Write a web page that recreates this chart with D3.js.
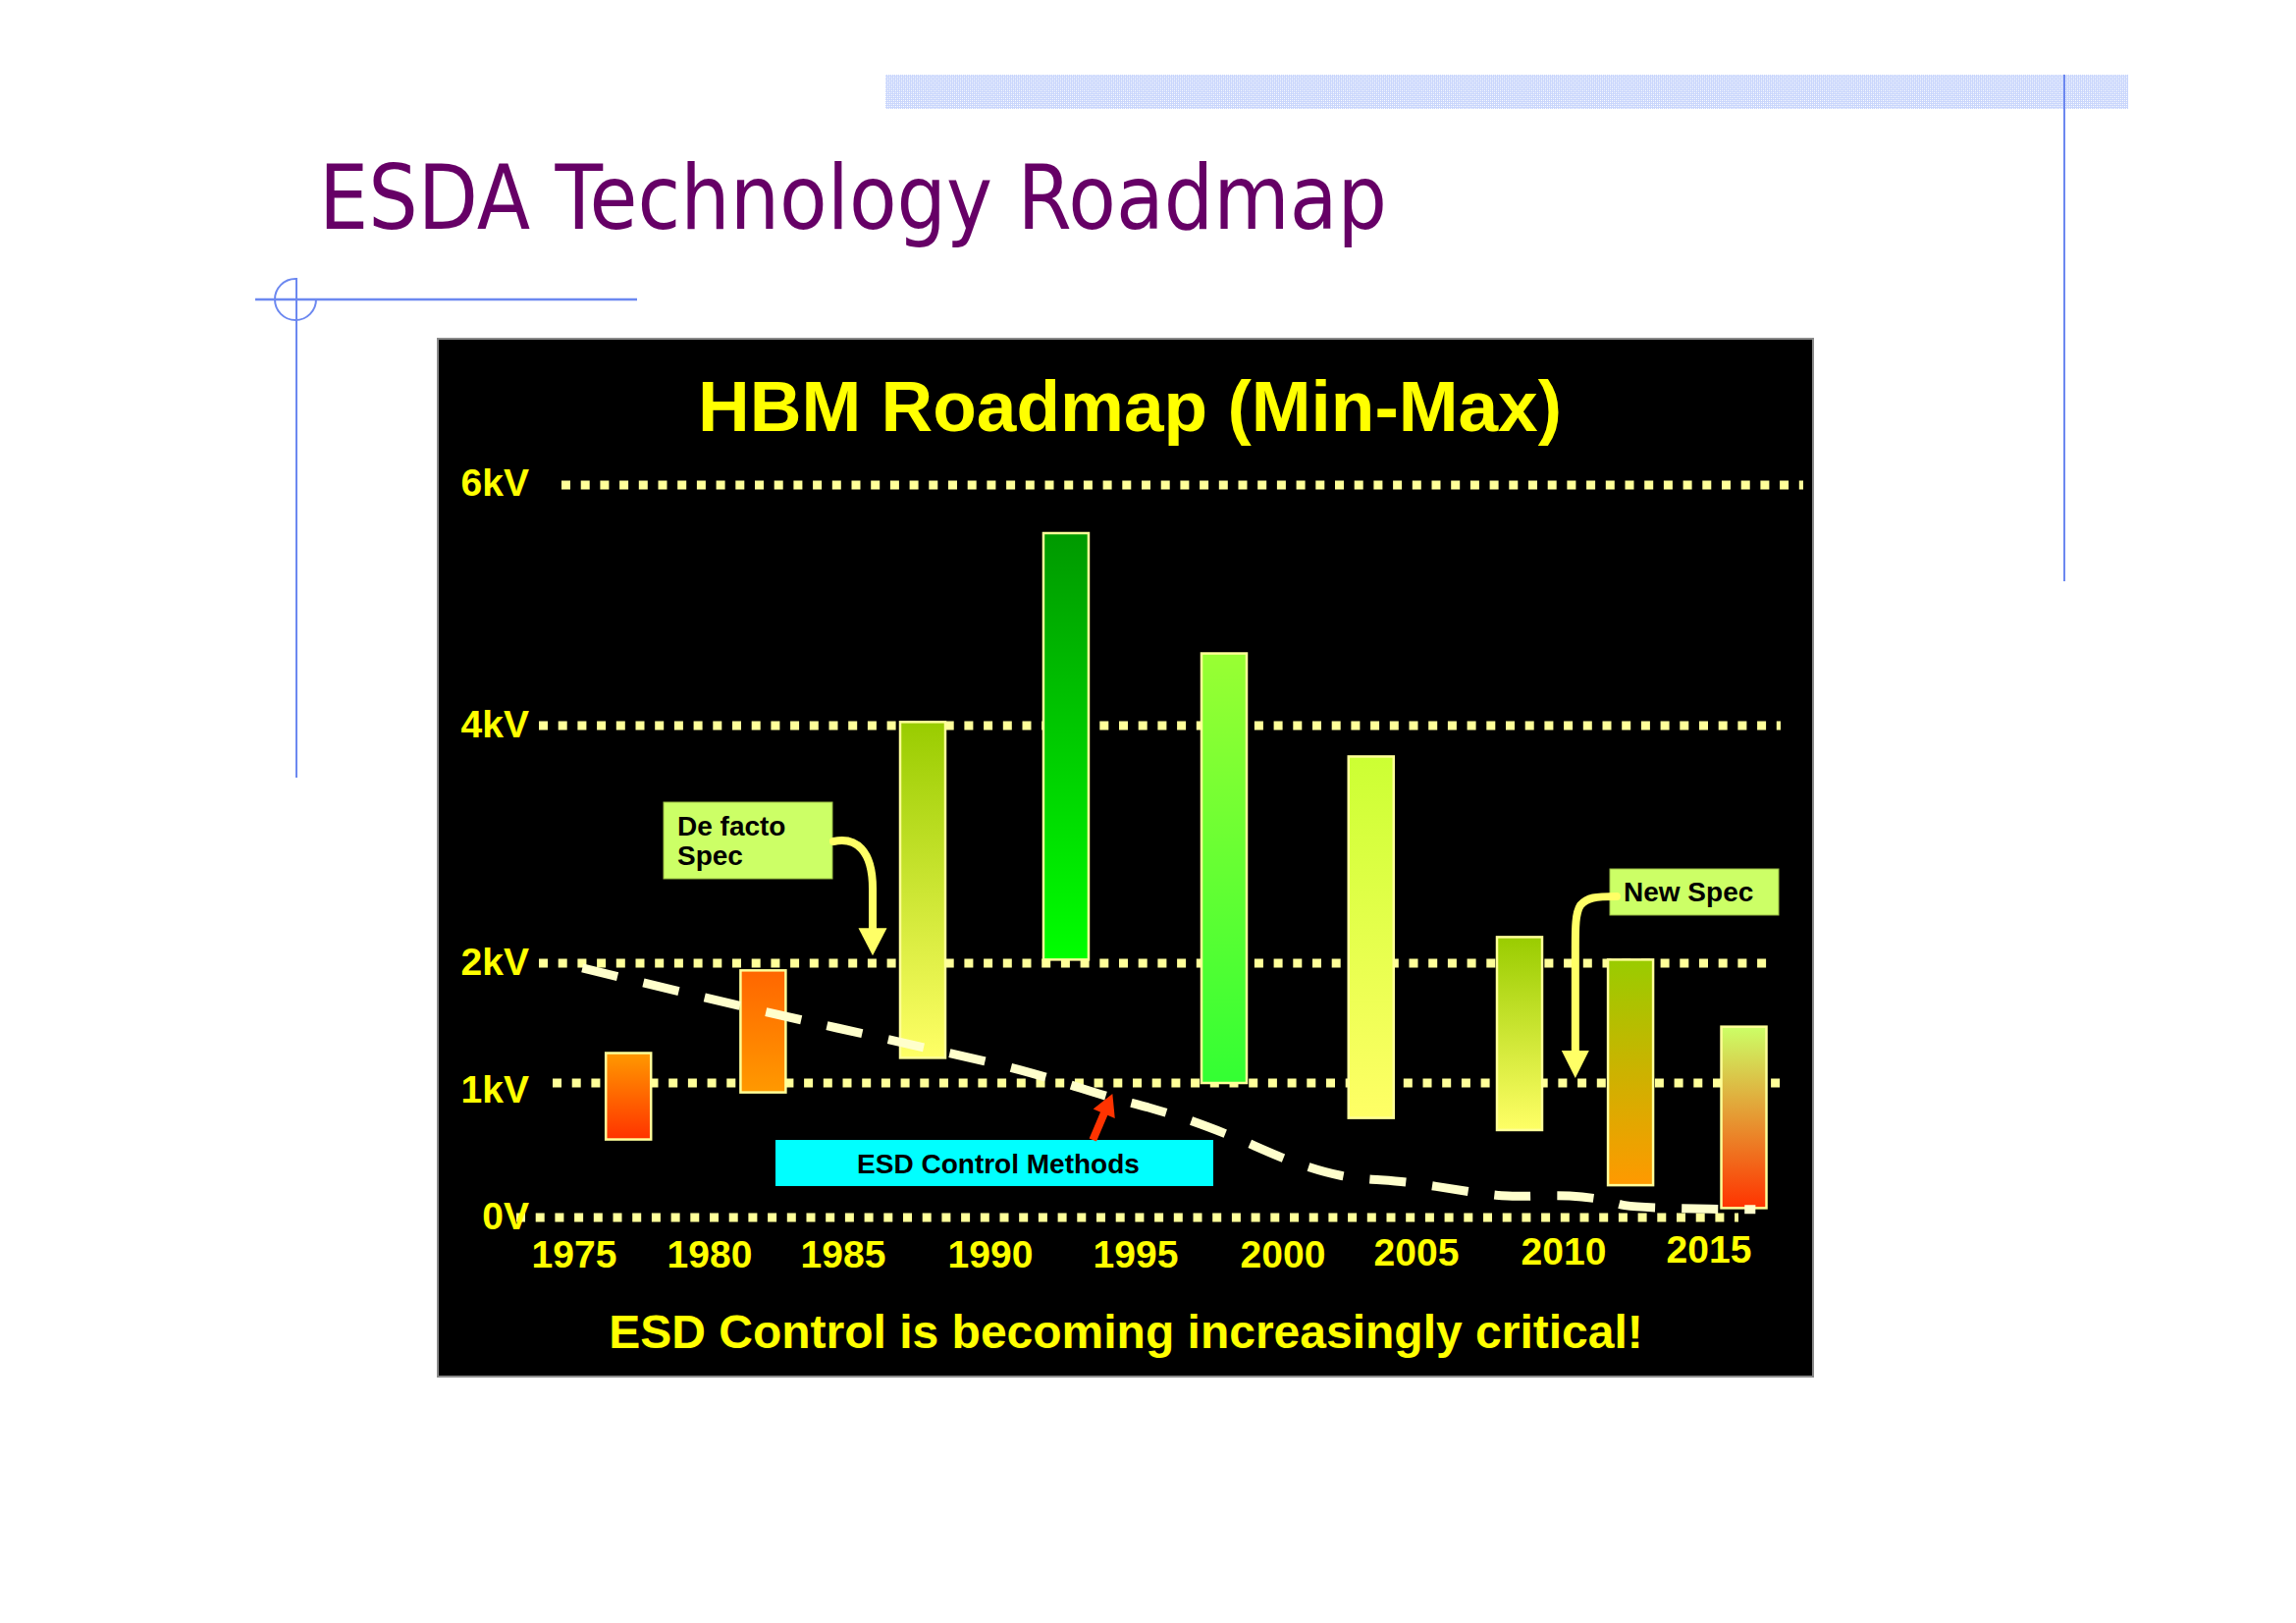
<!DOCTYPE html>
<html>
<head>
<meta charset="utf-8">
<script src="https://cdn.jsdelivr.net/npm/d3@7"></script>
<style>
  html, body { margin: 0; padding: 0; background: #ffffff; }
  svg { display: block; }
</style>
</head>
<body>
<svg id="chart" width="2339" height="1653"></svg>
<script>
// ---------------- DATA ----------------
const slideTitle = "ESDA Technology Roadmap";
const chartTitle = "HBM Roadmap (Min-Max)";
const caption = "ESD Control is becoming increasingly critical!";

const yearTicks = [1975, 1980, 1985, 1990, 1995, 2000, 2005, 2010, 2015];
const yearTickLabels = ["1975", "1980", "1985", "1990", "1995", "2000", "2005", "2010", "2015"];
const voltTicks = [0, 1, 2, 4, 6];
const voltTickLabels = ["0V", "1kV", "2kV", "4kV", "6kV"];

// HBM withstand ranges (kV) per era
const barYears = [1977, 1982, 1987.7, 1992.6, 1998, 2003.3, 2008.5, 2012.3, 2016.2];
const barMin   = [0.58, 0.93, 1.21, 2.03, 1.00, 0.74, 0.65, 0.24, 0.07];
const barMax   = [1.25, 1.94, 4.03, 5.60, 4.60, 3.74, 2.22, 2.03, 1.47];

// ESD control methods capability curve (dashed)
const curveYears = [1975.3, 1981.6, 1986.4, 1991.0, 1994.2, 1995.4, 1996.6, 1998.2, 2000.3, 2002.2, 2004.7, 2007.2, 2008.1, 2010.2, 2011.4, 2012.1, 2013.7, 2016.6];
const curveKV    = [1.96, 1.62, 1.37, 1.11, 0.89, 0.82, 0.74, 0.61, 0.42, 0.31, 0.26, 0.18, 0.16, 0.16, 0.13, 0.09, 0.07, 0.06];

// annotation targets (year, kV)
const deFactoTarget = [1986.0, 2.03];
const newSpecTarget = [2010.4, 1.04];
const methodsTarget = [1994.2, 0.92];

// ---------------- STYLE / LAYOUT ----------------
const barTopColors    = ["#ff9900", "#ff6600", "#99cc00", "#009900", "#99ff33", "#ccff33", "#99cc00", "#99cc00", "#ccff66"];
const barBottomColors = ["#ff3300", "#ff9900", "#ffff66", "#00ff00", "#33ff33", "#ffff66", "#ffff66", "#ff9900", "#ff3300"];
const xStops = [585, 723, 859, 1009, 1157, 1307, 1443, 1593, 1741];
const yStops = [1240, 1103, 981, 739, 494];
const gridStart = [526, 563, 549, 549, 572];
const gridEnd   = [1771, 1816, 1805, 1814, 1837];
const voltLabelDy = [12, 20, 12, 12, 11];
const yearLabelBaseline = [1291, 1291, 1291, 1291, 1291, 1291, 1289, 1288, 1286];
const barWidth = 46;
const FONT = "'Liberation Sans', Arial, Helvetica, sans-serif";
const decoBlue = "#6c88f0";

const svg = d3.select("#chart");
const defs = svg.append("defs");

// scales
const x = d3.scaleLinear().domain(yearTicks).range(xStops);
const y = d3.scaleLinear().domain(voltTicks).range(yStops);

// ---------- slide decoration ----------
svg.append("rect").attr("width", 2339).attr("height", 1653).attr("fill", "#ffffff");

const pat = defs.append("pattern").attr("id", "band").attr("patternUnits", "userSpaceOnUse")
  .attr("width", 4).attr("height", 4);
pat.append("rect").attr("width", 4).attr("height", 4).attr("fill", "#c9d6fc");
pat.append("rect").attr("x", 0).attr("y", 0).attr("width", 1).attr("height", 1).attr("fill", "#ffffff");
pat.append("rect").attr("x", 2).attr("y", 2).attr("width", 1).attr("height", 1).attr("fill", "#ffffff");
pat.append("rect").attr("x", 2).attr("y", 0).attr("width", 1).attr("height", 1).attr("fill", "#eef2ff");
pat.append("rect").attr("x", 0).attr("y", 2).attr("width", 1).attr("height", 1).attr("fill", "#eef2ff");

svg.append("rect").attr("x", 902).attr("y", 76).attr("width", 1266).attr("height", 35).attr("fill", "url(#band)");
svg.append("line").attr("x1", 2103).attr("x2", 2103).attr("y1", 76).attr("y2", 592)
  .attr("stroke", decoBlue).attr("stroke-width", 2);

// crosshair
svg.append("line").attr("x1", 260).attr("x2", 649).attr("y1", 305).attr("y2", 305)
  .attr("stroke", decoBlue).attr("stroke-width", 2.5);
svg.append("line").attr("x1", 302).attr("x2", 302).attr("y1", 283).attr("y2", 792)
  .attr("stroke", decoBlue).attr("stroke-width", 2);
svg.append("path")
  .attr("transform", "translate(301,305)")
  .attr("d", d3.arc().innerRadius(21).outerRadius(21).startAngle(Math.PI / 2).endAngle(2 * Math.PI)())
  .attr("fill", "none").attr("stroke", decoBlue).attr("stroke-width", 2);

svg.append("text").attr("x", 325).attr("y", 233)
  .attr("font-family", "'DejaVu Sans', Verdana, Tahoma, sans-serif")
  .attr("font-size", 90).attr("fill", "#660066")
  .attr("textLength", 1088).attr("lengthAdjust", "spacingAndGlyphs")
  .text(slideTitle);

// ---------- chart panel ----------
svg.append("rect").attr("x", 446).attr("y", 345).attr("width", 1401).attr("height", 1057)
  .attr("fill", "#000000").attr("stroke", "#8a8a8a").attr("stroke-width", 2);

svg.append("text").attr("x", 1151).attr("y", 439).attr("text-anchor", "middle")
  .attr("font-family", FONT).attr("font-weight", "bold").attr("font-size", 73)
  .attr("fill", "#ffff00").text(chartTitle);

// gridlines (dotted)
svg.append("g").selectAll("line").data(voltTicks).join("line")
  .attr("x1", (d, i) => gridStart[i]).attr("x2", (d, i) => gridEnd[i])
  .attr("y1", d => y(d)).attr("y2", d => y(d))
  .attr("stroke", "#ffff99").attr("stroke-width", 9)
  .attr("stroke-dasharray", "9,10.7");

// y labels
svg.append("g").selectAll("text").data(voltTicks).join("text")
  .attr("x", 539).attr("y", (d, i) => y(d) + voltLabelDy[i])
  .attr("text-anchor", "end")
  .attr("font-family", FONT).attr("font-weight", "bold").attr("font-size", 39)
  .attr("fill", "#ffff00")
  .text((d, i) => voltTickLabels[i]);

// x labels
svg.append("g").selectAll("text").data(yearTicks).join("text")
  .attr("x", d => x(d)).attr("y", (d, i) => yearLabelBaseline[i])
  .attr("text-anchor", "middle")
  .attr("font-family", FONT).attr("font-weight", "bold").attr("font-size", 39)
  .attr("fill", "#ffff00")
  .text((d, i) => yearTickLabels[i]);

// gradients
barYears.forEach((yr, i) => {
  const g = defs.append("linearGradient").attr("id", "bg" + i)
    .attr("x1", 0).attr("y1", 0).attr("x2", 0).attr("y2", 1);
  g.append("stop").attr("offset", "0%").attr("stop-color", barTopColors[i]);
  g.append("stop").attr("offset", "100%").attr("stop-color", barBottomColors[i]);
});

// bars
svg.append("g").selectAll("rect").data(barYears).join("rect")
  .attr("x", d => x(d) - barWidth / 2)
  .attr("width", barWidth)
  .attr("y", (d, i) => y(barMax[i]))
  .attr("height", (d, i) => y(barMin[i]) - y(barMax[i]))
  .attr("fill", (d, i) => "url(#bg" + i + ")")
  .attr("stroke", "#ffff99").attr("stroke-width", 2.5);

// dashed curve
const curvePts = curveYears.map((yr, i) => [x(yr), y(curveKV[i])]);
svg.append("path")
  .attr("d", d3.line().curve(d3.curveCatmullRom.alpha(0.5))(curvePts))
  .attr("fill", "none").attr("stroke", "#ffffcc").attr("stroke-width", 9)
  .attr("stroke-dasharray", "37,27");

// ---------- annotations ----------
function arrowHead(tip, dir, w, l, color) {
  const [tx, ty] = tip;
  const len = Math.hypot(dir[0], dir[1]);
  const ux = dir[0] / len, uy = dir[1] / len;
  const px = -uy, py = ux;
  const bx = tx - ux * l, by = ty - uy * l;
  svg.append("path")
    .attr("d", `M${tx},${ty} L${bx + px * w / 2},${by + py * w / 2} L${bx - px * w / 2},${by - py * w / 2} Z`)
    .attr("fill", color);
}

// De facto Spec
svg.append("rect").attr("x", 676).attr("y", 817).attr("width", 172).attr("height", 78)
  .attr("fill", "#ccff66").attr("stroke", "#99bb44").attr("stroke-width", 1);
svg.append("text").attr("x", 690).attr("y", 851)
  .attr("font-family", FONT).attr("font-weight", "bold").attr("font-size", 28).attr("fill", "#000")
  .text("De facto");
svg.append("text").attr("x", 690).attr("y", 881)
  .attr("font-family", FONT).attr("font-weight", "bold").attr("font-size", 28).attr("fill", "#000")
  .text("Spec");
{
  const tx = x(deFactoTarget[0]), ty = y(deFactoTarget[1]) - 4;
  svg.append("path")
    .attr("d", `M849,857 C872,852 ${tx},866 ${tx},905 L${tx},${ty - 26}`)
    .attr("fill", "none").attr("stroke", "#ffff66").attr("stroke-width", 8).attr("stroke-linecap", "round");
  arrowHead([tx, ty], [0, 1], 29, 28, "#ffff66");
}

// New Spec
svg.append("rect").attr("x", 1640).attr("y", 885).attr("width", 172).attr("height", 47)
  .attr("fill", "#ccff66").attr("stroke", "#99bb44").attr("stroke-width", 1);
svg.append("text").attr("x", 1654).attr("y", 918)
  .attr("font-family", FONT).attr("font-weight", "bold").attr("font-size", 28).attr("fill", "#000")
  .text("New Spec");
{
  const tx = x(newSpecTarget[0]), ty = y(newSpecTarget[1]);
  svg.append("path")
    .attr("d", `M1647,913 C1625,913 1617,914 1610,922 C${tx},930 ${tx},945 ${tx},965 L${tx},${ty - 26}`)
    .attr("fill", "none").attr("stroke", "#ffff66").attr("stroke-width", 8).attr("stroke-linecap", "round");
  arrowHead([tx, ty], [0, 1], 28, 28, "#ffff66");
}

// ESD Control Methods
svg.append("rect").attr("x", 790).attr("y", 1161).attr("width", 446).attr("height", 47)
  .attr("fill", "#00ffff");
svg.append("text").attr("x", 1017).attr("y", 1195).attr("text-anchor", "middle")
  .attr("font-family", FONT).attr("font-weight", "bold").attr("font-size", 28).attr("fill", "#000")
  .text("ESD Control Methods");
{
  const tip = [x(methodsTarget[0]), y(methodsTarget[1])];
  const tail = [tip[0] - 20, 1161];
  const dir = [tip[0] - tail[0], tip[1] - tail[1]];
  const len = Math.hypot(dir[0], dir[1]);
  const ux = dir[0] / len, uy = dir[1] / len;
  svg.append("line").attr("x1", tail[0]).attr("y1", tail[1])
    .attr("x2", tip[0] - ux * 16).attr("y2", tip[1] - uy * 16)
    .attr("stroke", "#ff3300").attr("stroke-width", 8);
  arrowHead(tip, dir, 24, 22, "#ff3300");
}

// caption
svg.append("text").attr("x", 1147).attr("y", 1373).attr("text-anchor", "middle")
  .attr("font-family", FONT).attr("font-weight", "bold").attr("font-size", 48)
  .attr("fill", "#ffff00").text(caption);
</script>
</body>
</html>
